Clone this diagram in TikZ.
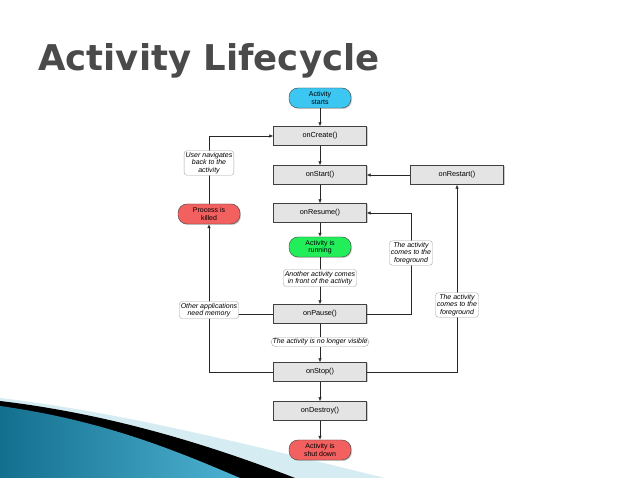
\documentclass[tikz,border=0pt]{standalone}
\usepackage{fontspec}
\setmainfont{Liberation Sans}
\newfontfamily\titlefont{DejaVu Sans}
\usetikzlibrary{arrows.meta,shadows}
\definecolor{boxg}{HTML}{E4E4E4}
\definecolor{cyanb}{HTML}{3CC6F2}
\definecolor{redb}{HTML}{F26060}
\definecolor{greenb}{HTML}{22EE5A}
\definecolor{titlec}{HTML}{4A4A4A}
\definecolor{swl}{HTML}{D6ECF3}
\definecolor{swa}{HTML}{136F8E}
\definecolor{swb}{HTML}{4FB2D2}
\tikzset{
 box/.style={draw=black!75,fill=boxg,minimum width=93pt,minimum height=19pt,font=\fontsize{7.3}{8}\selectfont,drop shadow={shadow xshift=1pt,shadow yshift=-1pt,opacity=.4}},
 pill/.style={draw=black!75,rounded corners=9pt,minimum width=62pt,minimum height=20pt,align=center,font=\fontsize{7}{7.5}\selectfont,inner sep=1pt,drop shadow={shadow xshift=1pt,shadow yshift=-1pt,opacity=.4}},
 lab/.style={draw=black!35,fill=white,rounded corners=3pt,align=center,font=\itshape\fontsize{7}{7.5}\selectfont,inner sep=1.5pt},
 arr/.style={-{Latex[length=4pt,width=3.5pt]},black!85,line width=0.6pt},
 ln/.style={black!85,line width=0.6pt}
}
\begin{document}
\begin{tikzpicture}[x=1pt,y=-1pt]
\useasboundingbox (0,0) rectangle (638,478);
\fill[white] (0,0) rectangle (638,478);
% swoosh
\fill[swl] (0,398) .. controls (120,412) and (250,445) .. (385,478) -- (0,478) -- cycle;
\fill[black] (0,401) .. controls (110,414) and (210,445) .. (295,478) -- (0,478) -- cycle;
\shade[left color=swa,right color=swb] (0,406) .. controls (100,420) and (170,448) .. (240,478) -- (0,478) -- cycle;
\node[font=\titlefont\fontsize{35.5}{36}\selectfont\bfseries,text=titlec,anchor=west,inner sep=0pt] (title) at (38,61) {Activity Lifecycle};
\node[pill,fill=cyanb] (st) at (320,98) {Activity\\starts};
\node[box] (cr) at (320,136) {onCreate()};
\node[box] (sa) at (320,175) {onStart()};
\node[box] (rs) at (457,175) {onRestart()};
\node[box] (re) at (320,213) {onResume()};
\node[pill,fill=redb] (pk) at (209,214) {Process is\\killed};
\node[pill,fill=greenb] (ru) at (320,247) {Activity is\\running};
\node[box] (pa) at (320,314) {onPause()};
\node[box] (so) at (320,372) {onStop()};
\node[box] (de) at (320,411) {onDestroy()};
\node[pill,fill=redb] (sd) at (320,450) {Activity is\\shut down};
\coordinate (c1) at (209,136);
\coordinate (c2) at (411,213);
\coordinate (c3) at (411,314);
\coordinate (c4) at (457,372);
\coordinate (c5) at (209,372);
\coordinate (c6) at (209,314);
\draw[arr] (st) -- (cr);
\draw[arr] (cr) -- (sa);
\draw[arr] (sa) -- (re);
\draw[arr] (re) -- (ru);
\draw[arr] (ru) -- (pa);
\draw[arr] (pa) -- (so);
\draw[arr] (so) -- (de);
\draw[arr] (de) -- (sd);
\draw[arr] (rs) -- (sa);
\draw[arr] (pa.east) -- (c3) -- (c2) -- (re.east);
\draw[arr] (so.east) -- (c4) -- (rs.south);
\draw[arr] (so.west) -- (c5) -- (pk.south);
\draw[ln] (pa.west) -- (c6);
\draw[arr] (pk.north) -- (c1) -- (cr.west);
\node[lab] (l1) at (209,163) {User navigates\\back to the\\activity};
\node[lab] (l2) at (320,278) {Another activity comes\\in front of the activity};
\node[lab] (l3) at (411,253) {The activity\\comes to the\\foreground};
\node[lab] (l4) at (457,305) {The activity\\comes to the\\foreground};
\node[lab] (l5) at (209,310) {Other applications\\need memory};
\node[lab,rounded corners=5pt] (l6) at (320,342) {The activity is no longer visible};
\end{tikzpicture}
\end{document}
